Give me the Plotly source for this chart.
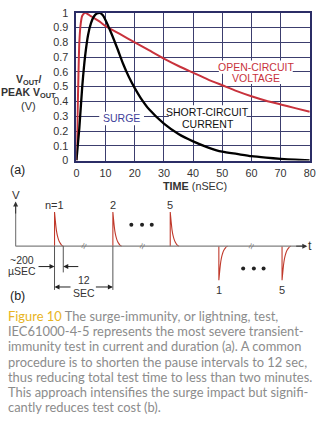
import plotly.graph_objects as go

# ---------------- data: panel (a) ----------------
t_open = [0, 0.5, 1, 1.5, 2, 3, 4, 6, 8, 10, 15, 20, 25, 30, 35, 40, 45, 50, 55, 60, 65, 70, 75, 80]
v_open = [0, 0.40, 0.80, 0.93, 0.98, 1.0, 0.99, 0.965, 0.94, 0.91, 0.855, 0.80, 0.745, 0.69, 0.64,
          0.595, 0.55, 0.51, 0.47, 0.435, 0.405, 0.38, 0.355, 0.33]
t_short = [0, 1, 2, 3, 4, 5, 6, 7, 8, 9, 10, 12, 14, 16, 18, 20, 22, 25, 30, 35, 40, 45, 50, 55,
           60, 65, 70, 75, 80]
v_short = [0, 0.22, 0.50, 0.71, 0.85, 0.93, 0.975, 0.995, 1.0, 0.985, 0.95, 0.86, 0.76, 0.655, 0.565,
           0.49, 0.425, 0.345, 0.25, 0.18, 0.13, 0.09, 0.06, 0.045, 0.03, 0.02, 0.012, 0.006, 0.002]
x_ticks = [0, 10, 20, 30, 40, 50, 60, 70, 80]
y_ticks = [0, 0.1, 0.2, 0.3, 0.4, 0.5, 0.6, 0.7, 0.8, 0.9, 1]
y_tick_text = ["0", "0.1", "0.2", "0.3", "0.4", "0.5", "0.6", "0.7", "0.8", "0.9", "1"]

# ---------------- data: panel (b) schematic ----------------
pulse_x = [53, 113, 172, 222, 287]
pulse_sign = [1, 1, 1, -1, -1]
pulse_labels = ["n=1", "2", "5", "1", "5"]
decay_dx = [0, 1, 2, 3, 4, 5, 6, 7, 8, 9]
decay_v = [1.0, 0.70, 0.45, 0.30, 0.20, 0.13, 0.08, 0.04, 0.015, 0.0]
break_x = [83, 143, 255]
dots_x_top = [132, 143, 153]
dots_x_bottom = [247, 258, 268]

caption_lines = [
    "<span style='color:#e8b423'>Figure 10</span> The surge-immunity, or lightning, test,",
    "IEC61000-4-5 represents the most severe transient-",
    "immunity test in current and duration (a). A common",
    "procedure is to shorten the pause intervals to 12 sec,",
    "thus reducing total test time to less than two minutes.",
    "This approach intensifies the surge impact but signifi-",
    "cantly reduces test cost (b).",
]

W, H = 325, 433
def py(p):  # pixel-from-top -> paper y
    return (H - p) / H

RED = "#c8323c"
NAVY = "#2b2d66"
GRID = "#3c3e6e"
TXT = "#333333"
GRAY = "#808080"
FONT = "Liberation Sans"

fig = go.Figure()
fig.add_trace(go.Scatter(x=t_open, y=v_open, mode="lines", line=dict(color=RED, width=2, shape="spline", smoothing=0.6),
                         xaxis="x", yaxis="y", showlegend=False, hoverinfo="skip"))
fig.add_trace(go.Scatter(x=t_short, y=v_short, mode="lines", line=dict(color="#000000", width=2.3, shape="spline", smoothing=0.6),
                         xaxis="x", yaxis="y", showlegend=False, hoverinfo="skip"))

# schematic axes: y unit = pulse amplitude, 35 px per unit; 0 at pixel 247
sy0, sunit = 247, 35.0
top_px, bot_px = 188, 306
def sy(p):
    return (sy0 - p) / sunit

for px, s in zip(pulse_x, pulse_sign):
    xs = [px, px] + [px + d for d in decay_dx]
    ys = [0, s] + [s * v for v in decay_v]
    fig.add_trace(go.Scatter(x=xs, y=ys, mode="lines", line=dict(color="#c0392b", width=1.1, shape="spline", smoothing=0.4),
                             xaxis="x2", yaxis="y2", showlegend=False, hoverinfo="skip"))

fig.add_trace(go.Scatter(x=[13, 310], y=[0, 0], mode="lines", line=dict(color=GRAY, width=1.2),
                         xaxis="x2", yaxis="y2", showlegend=False, hoverinfo="skip"))
fig.add_trace(go.Scatter(x=[13, 13], y=[0, sy(205)], mode="lines", line=dict(color=GRAY, width=1.2),
                         xaxis="x2", yaxis="y2", showlegend=False, hoverinfo="skip"))
for xs, yb in [(pulse_x[0], sy(292)), (pulse_x[1], sy(292)), (pulse_x[0] + decay_dx[-1], sy(274))]:
    fig.add_trace(go.Scatter(x=[xs, xs], y=[0, yb], mode="lines", line=dict(color="#555555", width=1),
                             xaxis="x2", yaxis="y2", showlegend=False, hoverinfo="skip"))
fig.add_trace(go.Scatter(x=dots_x_top, y=[sy(225)] * 3, mode="markers", marker=dict(color="#222", size=4),
                         xaxis="x2", yaxis="y2", showlegend=False, hoverinfo="skip"))
fig.add_trace(go.Scatter(x=dots_x_bottom, y=[sy(270)] * 3, mode="markers", marker=dict(color="#222", size=4),
                         xaxis="x2", yaxis="y2", showlegend=False, hoverinfo="skip"))

ann = []
shapes = []
def a(text, x, y, size=11.5, color=TXT, xanchor="center", family=FONT, **kw):
    d = dict(text=text, x=x, y=y, xref="paper", yref="paper", showarrow=False,
             font=dict(family=family, size=size, color=color), xanchor=xanchor, yanchor="middle")
    d.update(kw)
    ann.append(d)

a("<b>V<sub>OUT</sub>/</b>", 27 / W, py(76.5), size=10.5)
a("<b>PEAK V<sub>OUT</sub></b>", 26 / W, py(89.5), size=10.5)
a("(V)", 26 / W, py(102.5), size=11)
a("(a)", 15 / W, py(169), size=12.5, color="#222")
a("<b>TIME</b> (nSEC)", 197 / W, py(185), size=10.8)

labels_a = [("OPEN-CIRCUIT", 61.5, 0.632, RED, 38, 0.045), ("VOLTAGE", 61.5, 0.558, RED, 26, 0.04),
            ("SURGE", 15.5, 0.285, "#3e3e9a", 23, 0.045),
            ("SHORT-CIRCUIT", 45, 0.33, "#111", 40, 0.045), ("CURRENT", 45, 0.25, "#111", 26, 0.04)]
for txt, x, y, col, hw, hh in labels_a:
    shapes.append(dict(type="rect", xref="x", yref="y", x0=x - hw / 3, x1=x + hw / 3, y0=y - hh, y1=y + hh,
                       fillcolor="white", line=dict(width=0), layer="between"))
    ann.append(dict(text=txt, x=x, y=y, xref="x", yref="y", showarrow=False,
                    font=dict(family=FONT, size=10.5, color=col)))

def b(text, x, y, size=11, color=TXT, **kw):
    d = dict(text=text, x=x, y=y, xref="x2", yref="y2", showarrow=False,
             font=dict(family=FONT, size=size, color=color), xanchor="center", yanchor="middle")
    d.update(kw)
    ann.append(d)

b("V", 13, sy(194), size=11.5)
b("t", 316, 0, size=12.5)
for px, s, lab in zip(pulse_x, pulse_sign, pulse_labels):
    b(lab, px, sy(205) if s > 0 else sy(292), size=11)
for bx in break_x:
    b("≈", bx, 0, size=11, color=GRAY, textangle=-65)
b("~200", 20, sy(261), size=10.5)
b("µSEC", 20, sy(273), size=10.5)
b("12", 83, sy(282), size=10.5)
b("SEC", 83, sy(295), size=10.5)
b("(b)", 15, sy(298), size=12.5, color="#222")

def arrow(x, y, axv, ayv, color="#222", head=2):
    ann.append(dict(x=x, y=y, ax=axv, ay=ayv, xref="x2", yref="y2", axref="x2", ayref="y2",
                    showarrow=True, arrowhead=head, arrowsize=1, arrowwidth=1, arrowcolor=color, text=""))

arrow(313, 0, 300, 0, color="#333")
arrow(13, sy(201), 13, sy(215), color="#333")
arrow(pulse_x[0], sy(268), 35, sy(268))
arrow(pulse_x[0] + decay_dx[-1], sy(268), 79, sy(268))
arrow(pulse_x[0], sy(289), 71, sy(289))
arrow(pulse_x[1], sy(289), 94, sy(289))

for i, line in enumerate(caption_lines):
    a(line, 3 / W, py(319 + i * 15.6), size=12.9, color="#8c8c8c", xanchor="left", family="Lato")

fig.update_layout(
    width=W, height=H, margin=dict(l=0, r=0, t=0, b=0),
    paper_bgcolor="white", plot_bgcolor="white",
    xaxis=dict(domain=[75.5 / W, 315.5 / W], range=[0, 80], tickvals=x_ticks, showgrid=True,
               gridcolor=GRID, gridwidth=1, zeroline=False, showline=True, linecolor=NAVY, linewidth=2,
               mirror=True, ticks="", tickfont=dict(family=FONT, size=10.8, color=TXT), ticklabelstandoff=1),
    yaxis=dict(domain=[py(159), py(7)], range=[0, 1], tickvals=y_ticks, ticktext=y_tick_text, showgrid=True,
               gridcolor=GRID, gridwidth=1, zeroline=False, showline=True, linecolor=NAVY, linewidth=2,
               mirror=True, ticks="", tickfont=dict(family=FONT, size=10.8, color=TXT), ticklabelstandoff=4),
    xaxis2=dict(domain=[0, 1], range=[0, W], visible=False, anchor="y2"),
    yaxis2=dict(domain=[py(bot_px), py(top_px)], range=[sy(bot_px), sy(top_px)], visible=False, anchor="x2"),
    annotations=ann,
    shapes=shapes,
)
fig.write_html("out.html")
